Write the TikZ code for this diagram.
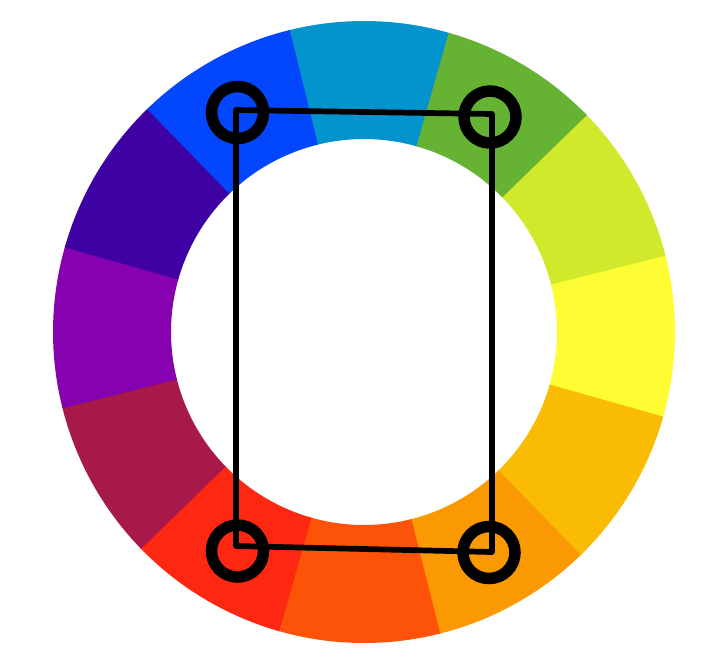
\documentclass[tikz,border=0pt]{standalone}
\usepackage{xcolor}
\usepackage{tikz}
\usetikzlibrary{calc}
\usetikzlibrary{shapes}

\definecolor{wCyan}{RGB}{3,148,206}
\definecolor{wGreen}{RGB}{102,178,50}
\definecolor{wYellowGreen}{RGB}{208,234,43}
\definecolor{wYellow}{RGB}{254,252,51}
\definecolor{wYellowOrange}{RGB}{249,188,2}
\definecolor{wOrange}{RGB}{251,153,2}
\definecolor{wRedOrange}{RGB}{253,83,8}
\definecolor{wRed}{RGB}{254,39,18}
\definecolor{wRedViolet}{RGB}{167,25,75}
\definecolor{wViolet}{RGB}{134,1,175}
\definecolor{wBlueViolet}{RGB}{61,1,164}
\definecolor{wBlue}{RGB}{2,71,254}

\begin{document}
\begin{tikzpicture}[x=1pt, y=-1pt,
  huering/.style={circle, draw=black, line width=11.5, minimum size=52, inner sep=0pt}]
 \useasboundingbox (0,0) rectangle (728,657);
 \coordinate (W) at (364, 332);
 % twelve hues, clockwise from the top
 \foreach \col [count=\i from 0] in {wCyan, wGreen, wYellowGreen, wYellow, wYellowOrange, wOrange, wRedOrange, wRed, wRedViolet, wViolet, wBlueViolet, wBlue} {
  \pgfmathsetmacro{\angA}{-104.2+30*\i}
  \pgfmathsetmacro{\angB}{\angA+30.4}
  \fill [\col] ($(W)+(\angA:311)$) arc [start angle=\angA, end angle=\angB, radius=311]
   -- ($(W)+(\angB:193)$) arc [start angle=\angB, end angle=\angA, radius=193] -- cycle;
 }
 \coordinate (b) at (236, 110);
 \coordinate (g) at (492, 114);
 \coordinate (o) at (492, 552);
 \coordinate (r) at (236, 546);
 \draw [line width=5.7, line join=round, draw=black] (b) -- (g) -- (o) -- (r) -- cycle;
 \node [huering] (B) at (237.5, 112.5) {};
 \node [huering] (G) at (490, 117) {};
 \node [huering] (O) at (489, 552.5) {};
 \node [huering] (R) at (237.5, 551) {};
\end{tikzpicture}
\end{document}
